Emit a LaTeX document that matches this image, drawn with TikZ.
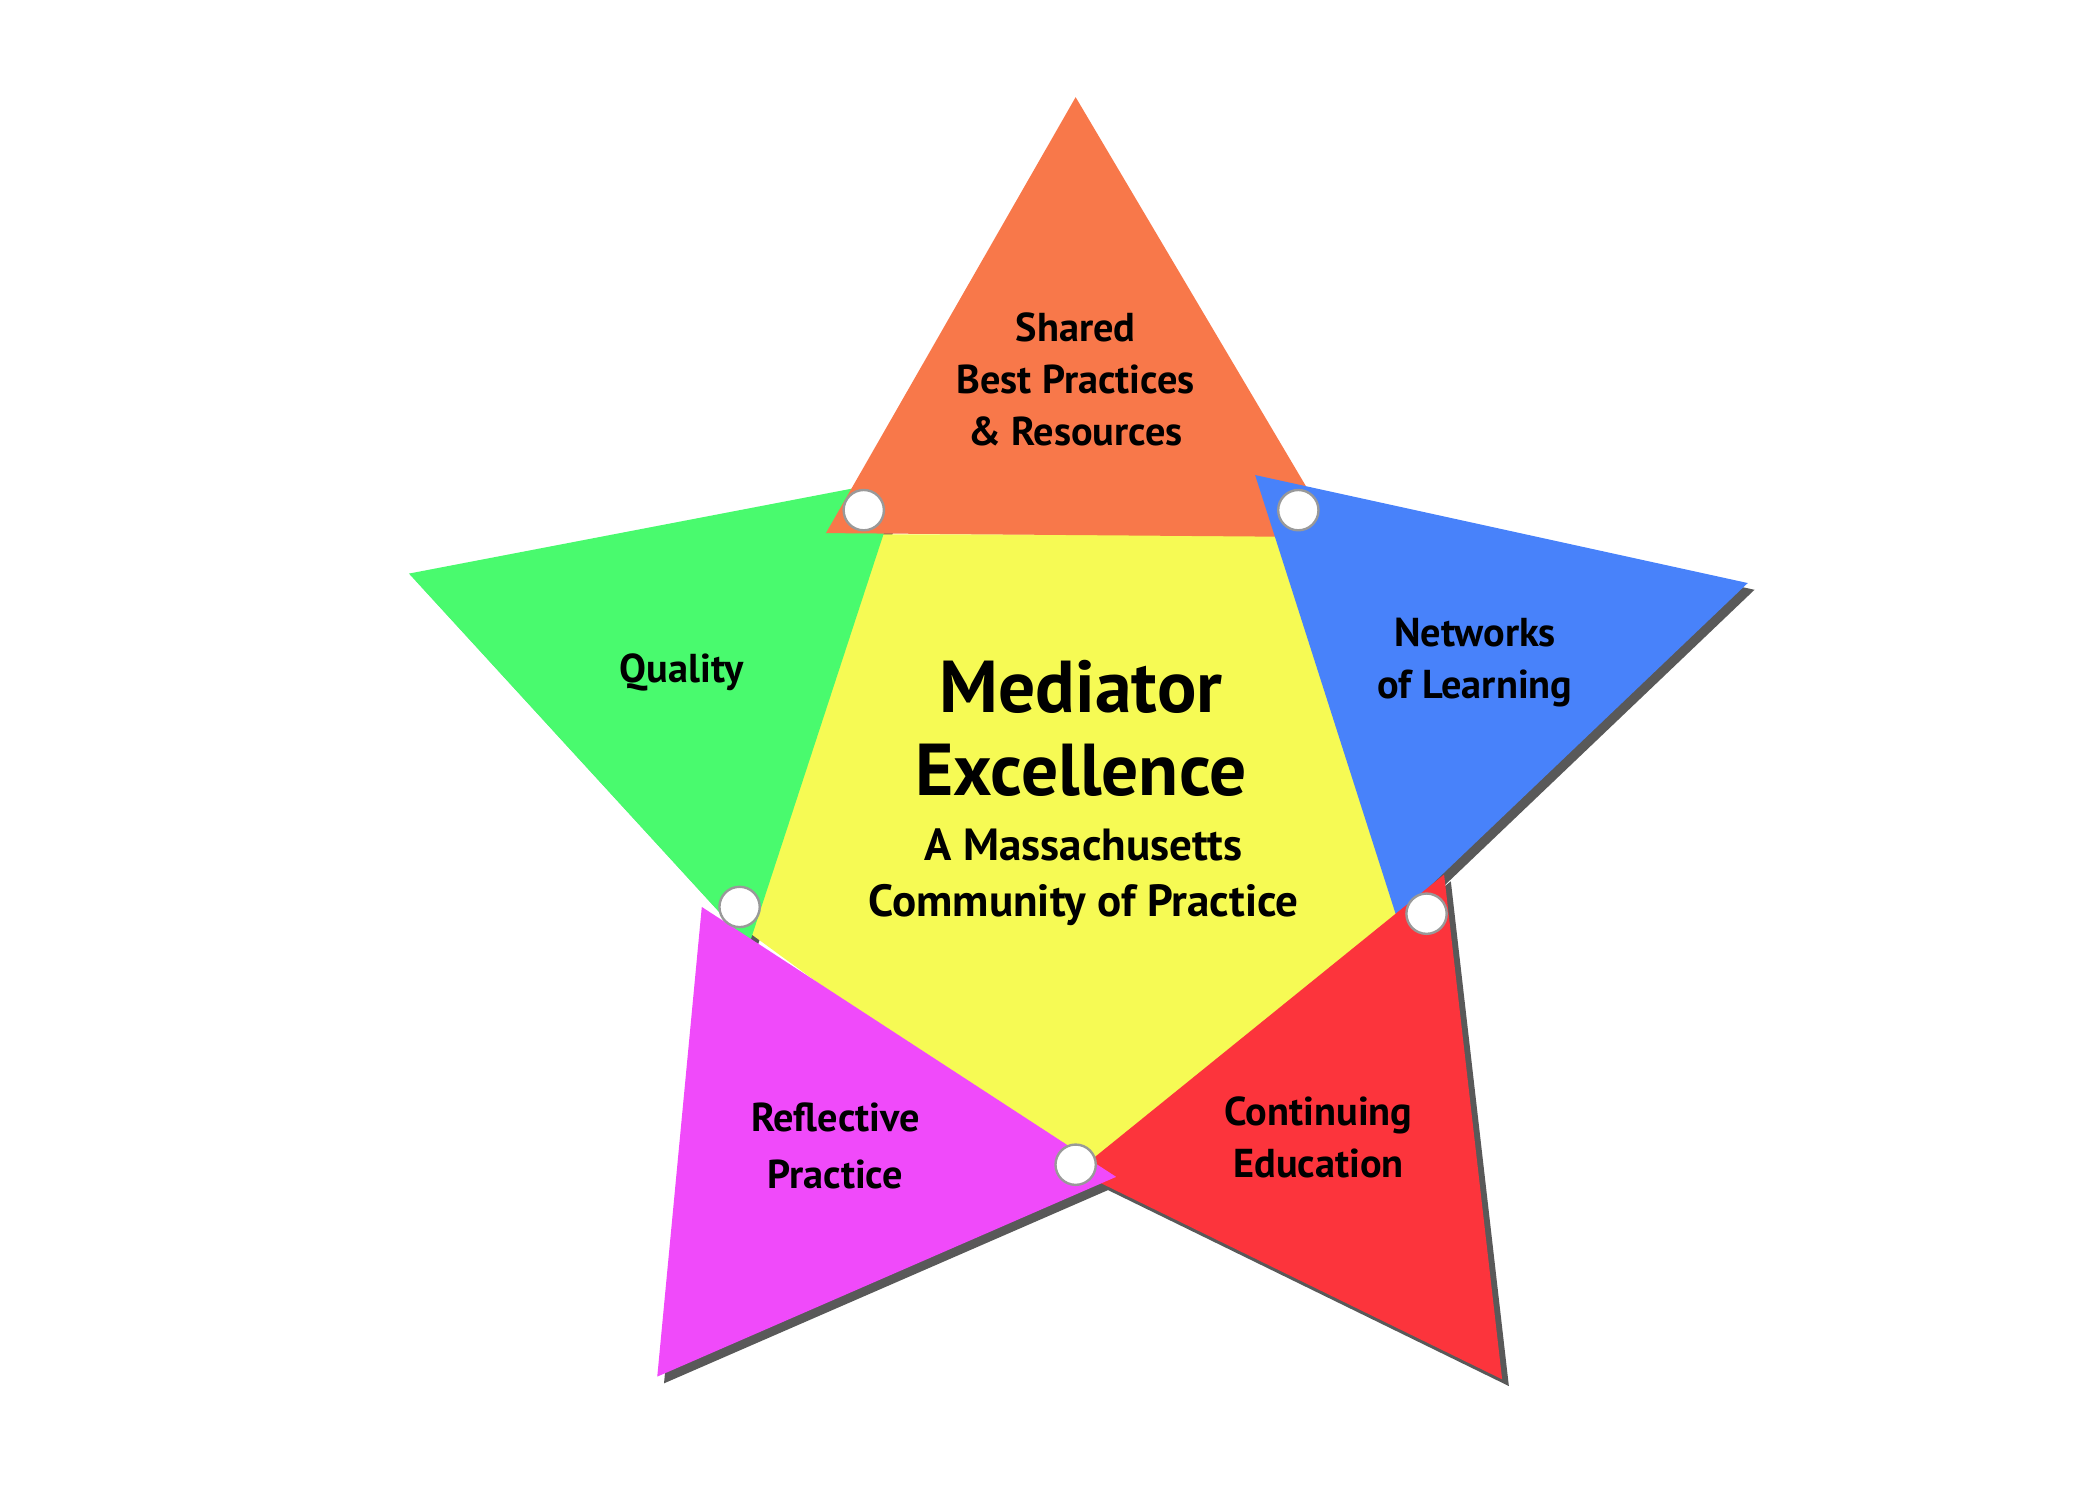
\documentclass[tikz,border=0pt]{standalone}
\usepackage{fontspec}
\setmainfont{PT Sans}
\begin{document}
\begin{tikzpicture}[x=0.02cm,y=-0.02cm,
  shad/.style={fill=black!65,shift={(5,5)}},
  lab/.style={font=\bfseries\fontsize{17}{21}\selectfont,align=center,text=black},
  dot/.style={circle,fill=white,draw=black!40,line width=1pt,minimum size=17pt,inner sep=0pt}]
\useasboundingbox (0,0) rectangle (1556,1111);
% shadows
\fill[shad] (303,425)--(668,355)--(555,700)--cycle;
\fill[shad] (930,352)--(1295,432)--(1035,680)--cycle;
\fill[shad] (520,672)--(827,872)--(487,1020)--cycle;
\fill[shad] (1070,648)--(1113,1022)--(798,868)--cycle;
% yellow pentagon
\fill[fill={rgb,255:red,246;green,250;blue,84}] (650,396)--(950,396)--(1050,665)--(800,870)--(540,680)--cycle;
% triangles
\fill[fill={rgb,255:red,73;green,250;blue,110}] (303,425)--(668,355)--(555,700)--cycle;
\fill[fill={rgb,255:red,248;green,120;blue,74}] (797,72)--(612,395)--(990,398)--cycle;
\fill[fill={rgb,255:red,72;green,130;blue,250}] (930,352)--(1295,432)--(1035,680)--cycle;
\fill[fill={rgb,255:red,252;green,52;blue,60}] (1070,648)--(1113,1022)--(798,868)--cycle;
\fill[fill={rgb,255:red,240;green,74;blue,250}] (520,672)--(827,872)--(487,1020)--cycle;
% dots
\node[dot] (d1) at (640,378) {};
\node[dot] (d2) at (962,378) {};
\node[dot] (d3) at (548,672) {};
\node[dot] (d4) at (1057,677) {};
\node[dot] (d5) at (797,863) {};
% labels
\node[lab] (t1) at (797,281) {Shared\\[1pt]Best Practices\\[1pt]\& Resources};
\node[lab] (t2) at (505,498) {Quality};
\node[lab] (t3) at (1093,491) {Networks\\[1pt]of Learning};
\node[lab] (t4) at (619,849) {Reflective\\[3pt]Practice};
\node[lab] (t5) at (977,843) {Continuing\\[1pt]Education};
\node[font=\bfseries\fontsize{31}{37}\selectfont,align=center] (m1) at (801,540) {Mediator\\[-2pt]Excellence};
\node[font=\bfseries\fontsize{19}{24}\selectfont,align=center] (m2) at (803,650) {A Massachusetts\\[0pt]Community of Practice};
\end{tikzpicture}
\end{document}
